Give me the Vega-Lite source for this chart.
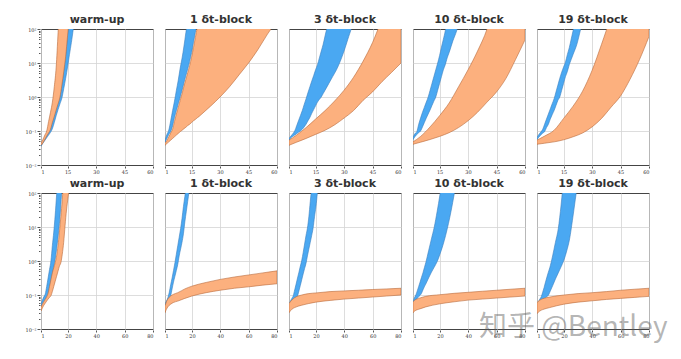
{
"$schema":"https://vega.github.io/schema/vega-lite/v6.json",
"background":"white",
"padding":{"left":24,"top":14,"right":5,"bottom":5},
"config":{"view":{"stroke":"#444","strokeWidth":1},"font":"DejaVu Sans",
"axis":{"labelFont":"DejaVu Serif","labelFontSize":5,"labelColor":"#333","tickColor":"#555","domain":false,"gridColor":"#d4d4d4","gridWidth":0.8,"title":null,"labelPadding":1,"zindex":1}},
"title":{"text":"知乎 @Bentley","orient":"bottom","anchor":"end","fontSize":28,"font":"Noto Sans CJK SC","fontWeight":"normal","color":"rgba(90,90,90,0.45)","offset":-24,"dx":18},
"datasets":{
"top":[
{"p":"warm-up","s":"A","x":1,"lo":0.0355,"hi":0.0447},{"p":"warm-up","s":"A","x":2,"lo":0.0437,"hi":0.0501},{"p":"warm-up","s":"A","x":3,"lo":0.0525,"hi":0.0631},{"p":"warm-up","s":"A","x":4,"lo":0.0631,"hi":0.0794},{"p":"warm-up","s":"A","x":5,"lo":0.0759,"hi":0.0977},{"p":"warm-up","s":"A","x":6,"lo":0.0912,"hi":0.126},{"p":"warm-up","s":"A","x":7,"lo":0.117,"hi":0.2},{"p":"warm-up","s":"A","x":8,"lo":0.178,"hi":0.302},{"p":"warm-up","s":"A","x":9,"lo":0.282,"hi":0.468},{"p":"warm-up","s":"A","x":10,"lo":0.427,"hi":0.708},{"p":"warm-up","s":"A","x":11,"lo":0.631,"hi":1.12},{"p":"warm-up","s":"A","x":12,"lo":0.933,"hi":2.51},{"p":"warm-up","s":"A","x":13,"lo":1.78,"hi":6.31},{"p":"warm-up","s":"A","x":14,"lo":3.55,"hi":17.8},{"p":"warm-up","s":"A","x":15,"lo":7.59,"hi":70.8},{"p":"warm-up","s":"A","x":16,"lo":17.8,"hi":282},{"p":"warm-up","s":"A","x":17,"lo":39.8,"hi":1000},{"p":"warm-up","s":"A","x":18,"lo":100,"hi":1000},{"p":"warm-up","s":"A","x":19,"lo":316,"hi":1000},{"p":"warm-up","s":"A","x":20,"lo":1000,"hi":1000},
{"p":"warm-up","s":"B","x":1,"lo":0.038,"hi":0.0447},{"p":"warm-up","s":"B","x":2,"lo":0.0447,"hi":0.0562},{"p":"warm-up","s":"B","x":3,"lo":0.0562,"hi":0.0759},{"p":"warm-up","s":"B","x":4,"lo":0.0708,"hi":0.1},{"p":"warm-up","s":"B","x":5,"lo":0.0871,"hi":0.191},{"p":"warm-up","s":"B","x":6,"lo":0.112,"hi":0.355},{"p":"warm-up","s":"B","x":7,"lo":0.178,"hi":0.708},{"p":"warm-up","s":"B","x":8,"lo":0.269,"hi":2.0},{"p":"warm-up","s":"B","x":9,"lo":0.417,"hi":7.59},{"p":"warm-up","s":"B","x":10,"lo":0.631,"hi":79.4},{"p":"warm-up","s":"B","x":11,"lo":1,"hi":1000},{"p":"warm-up","s":"B","x":12,"lo":2.24,"hi":1000},{"p":"warm-up","s":"B","x":13,"lo":5.62,"hi":1000},{"p":"warm-up","s":"B","x":14,"lo":15.8,"hi":1000},{"p":"warm-up","s":"B","x":15,"lo":63.1,"hi":1000},{"p":"warm-up","s":"B","x":16,"lo":251,"hi":1000},{"p":"warm-up","s":"B","x":17,"lo":1000,"hi":1000},
{"p":"1 δt-block","s":"A","x":1,"lo":0.0468,"hi":0.0537},{"p":"1 δt-block","s":"A","x":2,"lo":0.0603,"hi":0.0794},{"p":"1 δt-block","s":"A","x":3,"lo":0.0794,"hi":0.107},{"p":"1 δt-block","s":"A","x":4,"lo":0.0955,"hi":0.2},{"p":"1 δt-block","s":"A","x":5,"lo":0.141,"hi":0.398},{"p":"1 δt-block","s":"A","x":6,"lo":0.251,"hi":0.759},{"p":"1 δt-block","s":"A","x":7,"lo":0.398,"hi":1.58},{"p":"1 δt-block","s":"A","x":8,"lo":0.631,"hi":3.16},{"p":"1 δt-block","s":"A","x":9,"lo":1,"hi":7.08},{"p":"1 δt-block","s":"A","x":10,"lo":1.58,"hi":14.1},{"p":"1 δt-block","s":"A","x":11,"lo":2.63,"hi":31.6},{"p":"1 δt-block","s":"A","x":12,"lo":4.27,"hi":79.4},{"p":"1 δt-block","s":"A","x":13,"lo":6.76,"hi":200},{"p":"1 δt-block","s":"A","x":14,"lo":11.2,"hi":1000},{"p":"1 δt-block","s":"A","x":15,"lo":20.0,"hi":1000},{"p":"1 δt-block","s":"A","x":16,"lo":39.8,"hi":1000},{"p":"1 δt-block","s":"A","x":17,"lo":79.4,"hi":1000},{"p":"1 δt-block","s":"A","x":18,"lo":158,"hi":1000},{"p":"1 δt-block","s":"A","x":19,"lo":355,"hi":1000},{"p":"1 δt-block","s":"A","x":20,"lo":1000,"hi":1000},
{"p":"1 δt-block","s":"B","x":1,"lo":0.038,"hi":0.0427},{"p":"1 δt-block","s":"B","x":2,"lo":0.0427,"hi":0.0525},{"p":"1 δt-block","s":"B","x":3,"lo":0.0479,"hi":0.0676},{"p":"1 δt-block","s":"B","x":4,"lo":0.0537,"hi":0.0871},{"p":"1 δt-block","s":"B","x":5,"lo":0.0603,"hi":0.112},{"p":"1 δt-block","s":"B","x":6,"lo":0.0676,"hi":0.191},{"p":"1 δt-block","s":"B","x":7,"lo":0.0759,"hi":0.316},{"p":"1 δt-block","s":"B","x":8,"lo":0.0851,"hi":0.501},{"p":"1 δt-block","s":"B","x":9,"lo":0.0955,"hi":0.794},{"p":"1 δt-block","s":"B","x":10,"lo":0.105,"hi":1.26},{"p":"1 δt-block","s":"B","x":11,"lo":0.117,"hi":2.09},{"p":"1 δt-block","s":"B","x":12,"lo":0.129,"hi":3.31},{"p":"1 δt-block","s":"B","x":13,"lo":0.145,"hi":5.25},{"p":"1 δt-block","s":"B","x":14,"lo":0.158,"hi":8.51},{"p":"1 δt-block","s":"B","x":15,"lo":0.178,"hi":14.8},{"p":"1 δt-block","s":"B","x":16,"lo":0.2,"hi":28.2},{"p":"1 δt-block","s":"B","x":17,"lo":0.219,"hi":56.2},{"p":"1 δt-block","s":"B","x":18,"lo":0.245,"hi":112},{"p":"1 δt-block","s":"B","x":19,"lo":0.269,"hi":251},{"p":"1 δt-block","s":"B","x":20,"lo":0.302,"hi":1000},{"p":"1 δt-block","s":"B","x":25,"lo":0.537,"hi":1000},{"p":"1 δt-block","s":"B","x":30,"lo":1,"hi":1000},{"p":"1 δt-block","s":"B","x":35,"lo":2.0,"hi":1000},{"p":"1 δt-block","s":"B","x":40,"lo":4.47,"hi":1000},{"p":"1 δt-block","s":"B","x":45,"lo":10,"hi":1000},{"p":"1 δt-block","s":"B","x":50,"lo":25.1,"hi":1000},{"p":"1 δt-block","s":"B","x":55,"lo":70.8,"hi":1000},{"p":"1 δt-block","s":"B","x":60,"lo":178,"hi":1000},
{"p":"3 δt-block","s":"A","x":1,"lo":0.0525,"hi":0.0603},{"p":"3 δt-block","s":"A","x":2,"lo":0.0631,"hi":0.0708},{"p":"3 δt-block","s":"A","x":3,"lo":0.0692,"hi":0.0832},{"p":"3 δt-block","s":"A","x":4,"lo":0.0759,"hi":0.1},{"p":"3 δt-block","s":"A","x":5,"lo":0.0832,"hi":0.141},{"p":"3 δt-block","s":"A","x":6,"lo":0.0912,"hi":0.2},{"p":"3 δt-block","s":"A","x":7,"lo":0.1,"hi":0.282},{"p":"3 δt-block","s":"A","x":8,"lo":0.112,"hi":0.398},{"p":"3 δt-block","s":"A","x":9,"lo":0.132,"hi":0.603},{"p":"3 δt-block","s":"A","x":10,"lo":0.158,"hi":0.891},{"p":"3 δt-block","s":"A","x":11,"lo":0.2,"hi":1.35},{"p":"3 δt-block","s":"A","x":12,"lo":0.251,"hi":2.0},{"p":"3 δt-block","s":"A","x":13,"lo":0.331,"hi":2.95},{"p":"3 δt-block","s":"A","x":14,"lo":0.427,"hi":4.27},{"p":"3 δt-block","s":"A","x":15,"lo":0.55,"hi":6.31},{"p":"3 δt-block","s":"A","x":16,"lo":0.708,"hi":8.91},{"p":"3 δt-block","s":"A","x":17,"lo":0.851,"hi":14.1},{"p":"3 δt-block","s":"A","x":18,"lo":1,"hi":22.4},{"p":"3 δt-block","s":"A","x":19,"lo":1.26,"hi":35.5},{"p":"3 δt-block","s":"A","x":20,"lo":1.58,"hi":63.1},{"p":"3 δt-block","s":"A","x":22,"lo":2.51,"hi":200},{"p":"3 δt-block","s":"A","x":24,"lo":3.98,"hi":1000},{"p":"3 δt-block","s":"A","x":26,"lo":6.31,"hi":1000},{"p":"3 δt-block","s":"A","x":28,"lo":11.2,"hi":1000},{"p":"3 δt-block","s":"A","x":30,"lo":22.4,"hi":1000},{"p":"3 δt-block","s":"A","x":32,"lo":50.1,"hi":1000},{"p":"3 δt-block","s":"A","x":34,"lo":112,"hi":1000},{"p":"3 δt-block","s":"A","x":36,"lo":316,"hi":1000},{"p":"3 δt-block","s":"A","x":38,"lo":1000,"hi":1000},
{"p":"3 δt-block","s":"B","x":1,"lo":0.038,"hi":0.0537},{"p":"3 δt-block","s":"B","x":5,"lo":0.0468,"hi":0.0759},{"p":"3 δt-block","s":"B","x":10,"lo":0.0603,"hi":0.126},{"p":"3 δt-block","s":"B","x":15,"lo":0.0794,"hi":0.224},{"p":"3 δt-block","s":"B","x":20,"lo":0.105,"hi":0.398},{"p":"3 δt-block","s":"B","x":25,"lo":0.151,"hi":0.759},{"p":"3 δt-block","s":"B","x":30,"lo":0.24,"hi":1.58},{"p":"3 δt-block","s":"B","x":35,"lo":0.398,"hi":3.8},{"p":"3 δt-block","s":"B","x":40,"lo":0.794,"hi":11.2},{"p":"3 δt-block","s":"B","x":45,"lo":1.41,"hi":39.8},{"p":"3 δt-block","s":"B","x":50,"lo":2.82,"hi":200},{"p":"3 δt-block","s":"B","x":55,"lo":5.25,"hi":1000},{"p":"3 δt-block","s":"B","x":60,"lo":10,"hi":1000},
{"p":"10 δt-block","s":"A","x":1,"lo":0.0562,"hi":0.0646},{"p":"10 δt-block","s":"A","x":2,"lo":0.0676,"hi":0.0832},{"p":"10 δt-block","s":"A","x":3,"lo":0.0794,"hi":0.0955},{"p":"10 δt-block","s":"A","x":4,"lo":0.0891,"hi":0.158},{"p":"10 δt-block","s":"A","x":5,"lo":0.1,"hi":0.24},{"p":"10 δt-block","s":"A","x":6,"lo":0.132,"hi":0.355},{"p":"10 δt-block","s":"A","x":7,"lo":0.178,"hi":0.501},{"p":"10 δt-block","s":"A","x":8,"lo":0.24,"hi":0.708},{"p":"10 δt-block","s":"A","x":9,"lo":0.316,"hi":1},{"p":"10 δt-block","s":"A","x":10,"lo":0.417,"hi":1.58},{"p":"10 δt-block","s":"A","x":11,"lo":0.562,"hi":2.51},{"p":"10 δt-block","s":"A","x":12,"lo":0.759,"hi":3.98},{"p":"10 δt-block","s":"A","x":13,"lo":1,"hi":6.31},{"p":"10 δt-block","s":"A","x":14,"lo":1.58,"hi":10},{"p":"10 δt-block","s":"A","x":15,"lo":2.51,"hi":16.6},{"p":"10 δt-block","s":"A","x":16,"lo":3.98,"hi":29.5},{"p":"10 δt-block","s":"A","x":17,"lo":6.31,"hi":50.1},{"p":"10 δt-block","s":"A","x":18,"lo":8.91,"hi":89.1},{"p":"10 δt-block","s":"A","x":19,"lo":14.1,"hi":200},{"p":"10 δt-block","s":"A","x":20,"lo":20.0,"hi":1000},{"p":"10 δt-block","s":"A","x":22,"lo":44.7,"hi":1000},{"p":"10 δt-block","s":"A","x":24,"lo":89.1,"hi":1000},{"p":"10 δt-block","s":"A","x":26,"lo":251,"hi":1000},{"p":"10 δt-block","s":"A","x":28,"lo":1000,"hi":1000},
{"p":"10 δt-block","s":"B","x":1,"lo":0.0407,"hi":0.0479},{"p":"10 δt-block","s":"B","x":5,"lo":0.0468,"hi":0.0692},{"p":"10 δt-block","s":"B","x":10,"lo":0.0562,"hi":0.132},{"p":"10 δt-block","s":"B","x":15,"lo":0.0692,"hi":0.282},{"p":"10 δt-block","s":"B","x":20,"lo":0.0891,"hi":0.661},{"p":"10 δt-block","s":"B","x":25,"lo":0.126,"hi":2.0},{"p":"10 δt-block","s":"B","x":30,"lo":0.2,"hi":6.31},{"p":"10 δt-block","s":"B","x":35,"lo":0.355,"hi":22.4},{"p":"10 δt-block","s":"B","x":40,"lo":0.708,"hi":100},{"p":"10 δt-block","s":"B","x":45,"lo":1.41,"hi":1000},{"p":"10 δt-block","s":"B","x":50,"lo":3.55,"hi":1000},{"p":"10 δt-block","s":"B","x":55,"lo":12.6,"hi":1000},{"p":"10 δt-block","s":"B","x":60,"lo":47.9,"hi":1000},
{"p":"19 δt-block","s":"A","x":1,"lo":0.0562,"hi":0.0646},{"p":"19 δt-block","s":"A","x":2,"lo":0.0661,"hi":0.0794},{"p":"19 δt-block","s":"A","x":3,"lo":0.0759,"hi":0.0933},{"p":"19 δt-block","s":"A","x":4,"lo":0.0871,"hi":0.112},{"p":"19 δt-block","s":"A","x":5,"lo":0.0955,"hi":0.158},{"p":"19 δt-block","s":"A","x":6,"lo":0.126,"hi":0.224},{"p":"19 δt-block","s":"A","x":7,"lo":0.158,"hi":0.316},{"p":"19 δt-block","s":"A","x":8,"lo":0.224,"hi":0.447},{"p":"19 δt-block","s":"A","x":9,"lo":0.302,"hi":0.631},{"p":"19 δt-block","s":"A","x":10,"lo":0.398,"hi":0.891},{"p":"19 δt-block","s":"A","x":11,"lo":0.562,"hi":1.41},{"p":"19 δt-block","s":"A","x":12,"lo":0.794,"hi":2.24},{"p":"19 δt-block","s":"A","x":13,"lo":1,"hi":3.55},{"p":"19 δt-block","s":"A","x":14,"lo":1.58,"hi":5.37},{"p":"19 δt-block","s":"A","x":15,"lo":2.51,"hi":7.59},{"p":"19 δt-block","s":"A","x":16,"lo":3.98,"hi":10.7},{"p":"19 δt-block","s":"A","x":17,"lo":5.62,"hi":17.8},{"p":"19 δt-block","s":"A","x":18,"lo":8.91,"hi":28.2},{"p":"19 δt-block","s":"A","x":19,"lo":12.6,"hi":50.1},{"p":"19 δt-block","s":"A","x":20,"lo":17.8,"hi":89.1},{"p":"19 δt-block","s":"A","x":22,"lo":35.5,"hi":316},{"p":"19 δt-block","s":"A","x":24,"lo":100,"hi":1000},{"p":"19 δt-block","s":"A","x":26,"lo":316,"hi":1000},{"p":"19 δt-block","s":"A","x":28,"lo":1000,"hi":1000},
{"p":"19 δt-block","s":"B","x":1,"lo":0.0407,"hi":0.0537},{"p":"19 δt-block","s":"B","x":5,"lo":0.0437,"hi":0.0708},{"p":"19 δt-block","s":"B","x":10,"lo":0.0479,"hi":0.105},{"p":"19 δt-block","s":"B","x":15,"lo":0.055,"hi":0.234},{"p":"19 δt-block","s":"B","x":20,"lo":0.0676,"hi":0.537},{"p":"19 δt-block","s":"B","x":25,"lo":0.0871,"hi":1.48},{"p":"19 δt-block","s":"B","x":30,"lo":0.132,"hi":6.03},{"p":"19 δt-block","s":"B","x":35,"lo":0.234,"hi":35.5},{"p":"19 δt-block","s":"B","x":40,"lo":0.501,"hi":224},{"p":"19 δt-block","s":"B","x":45,"lo":1.07,"hi":1000},{"p":"19 δt-block","s":"B","x":50,"lo":3.31,"hi":1000},{"p":"19 δt-block","s":"B","x":55,"lo":12.6,"hi":1000},{"p":"19 δt-block","s":"B","x":60,"lo":60.3,"hi":1000}
],
"bot":[
{"p":"warm-up","s":"A","x":1,"lo":0.0468,"hi":0.0537},{"p":"warm-up","s":"A","x":2,"lo":0.0562,"hi":0.0708},{"p":"warm-up","s":"A","x":3,"lo":0.0661,"hi":0.0891},{"p":"warm-up","s":"A","x":4,"lo":0.0759,"hi":0.107},{"p":"warm-up","s":"A","x":5,"lo":0.0871,"hi":0.178},{"p":"warm-up","s":"A","x":6,"lo":0.0977,"hi":0.316},{"p":"warm-up","s":"A","x":7,"lo":0.158,"hi":0.562},{"p":"warm-up","s":"A","x":8,"lo":0.251,"hi":1},{"p":"warm-up","s":"A","x":9,"lo":0.398,"hi":2.82},{"p":"warm-up","s":"A","x":10,"lo":0.661,"hi":7.08},{"p":"warm-up","s":"A","x":11,"lo":1.12,"hi":22.4},{"p":"warm-up","s":"A","x":12,"lo":2.24,"hi":89.1},{"p":"warm-up","s":"A","x":13,"lo":5.01,"hi":398},{"p":"warm-up","s":"A","x":14,"lo":12.6,"hi":1000},{"p":"warm-up","s":"A","x":15,"lo":44.7,"hi":1000},{"p":"warm-up","s":"A","x":16,"lo":200,"hi":1000},{"p":"warm-up","s":"A","x":17,"lo":1000,"hi":1000},
{"p":"warm-up","s":"B","x":1,"lo":0.0339,"hi":0.0427},{"p":"warm-up","s":"B","x":2,"lo":0.0417,"hi":0.0537},{"p":"warm-up","s":"B","x":3,"lo":0.0501,"hi":0.0631},{"p":"warm-up","s":"B","x":4,"lo":0.0575,"hi":0.0741},{"p":"warm-up","s":"B","x":5,"lo":0.0661,"hi":0.0891},{"p":"warm-up","s":"B","x":6,"lo":0.0759,"hi":0.112},{"p":"warm-up","s":"B","x":7,"lo":0.0851,"hi":0.178},{"p":"warm-up","s":"B","x":8,"lo":0.0955,"hi":0.282},{"p":"warm-up","s":"B","x":9,"lo":0.126,"hi":0.447},{"p":"warm-up","s":"B","x":10,"lo":0.178,"hi":0.631},{"p":"warm-up","s":"B","x":11,"lo":0.251,"hi":0.891},{"p":"warm-up","s":"B","x":12,"lo":0.355,"hi":1.41},{"p":"warm-up","s":"B","x":13,"lo":0.501,"hi":2.82},{"p":"warm-up","s":"B","x":14,"lo":0.708,"hi":7.08},{"p":"warm-up","s":"B","x":15,"lo":0.891,"hi":20.0},{"p":"warm-up","s":"B","x":16,"lo":1.58,"hi":63.1},{"p":"warm-up","s":"B","x":17,"lo":3.55,"hi":251},{"p":"warm-up","s":"B","x":18,"lo":11.2,"hi":1000},{"p":"warm-up","s":"B","x":19,"lo":31.6,"hi":1000},{"p":"warm-up","s":"B","x":20,"lo":70.8,"hi":1000},{"p":"warm-up","s":"B","x":21,"lo":158,"hi":1000},{"p":"warm-up","s":"B","x":22,"lo":398,"hi":1000},{"p":"warm-up","s":"B","x":23,"lo":1000,"hi":1000},
{"p":"1 δt-block","s":"A","x":1,"lo":0.0468,"hi":0.0537},{"p":"1 δt-block","s":"A","x":2,"lo":0.0562,"hi":0.0661},{"p":"1 δt-block","s":"A","x":3,"lo":0.0661,"hi":0.0832},{"p":"1 δt-block","s":"A","x":4,"lo":0.0794,"hi":0.12},{"p":"1 δt-block","s":"A","x":5,"lo":0.0955,"hi":0.2},{"p":"1 δt-block","s":"A","x":6,"lo":0.151,"hi":0.316},{"p":"1 δt-block","s":"A","x":7,"lo":0.24,"hi":0.525},{"p":"1 δt-block","s":"A","x":8,"lo":0.355,"hi":0.891},{"p":"1 δt-block","s":"A","x":9,"lo":0.525,"hi":1.58},{"p":"1 δt-block","s":"A","x":10,"lo":0.794,"hi":2.82},{"p":"1 δt-block","s":"A","x":11,"lo":1.41,"hi":5.01},{"p":"1 δt-block","s":"A","x":12,"lo":2.24,"hi":8.91},{"p":"1 δt-block","s":"A","x":13,"lo":3.55,"hi":17.8},{"p":"1 δt-block","s":"A","x":14,"lo":6.31,"hi":39.8},{"p":"1 δt-block","s":"A","x":15,"lo":14.1,"hi":79.4},{"p":"1 δt-block","s":"A","x":16,"lo":28.2,"hi":158},{"p":"1 δt-block","s":"A","x":17,"lo":56.2,"hi":316},{"p":"1 δt-block","s":"A","x":18,"lo":112,"hi":1000},{"p":"1 δt-block","s":"A","x":19,"lo":251,"hi":1000},{"p":"1 δt-block","s":"A","x":20,"lo":1000,"hi":1000},
{"p":"1 δt-block","s":"B","x":1,"lo":0.0302,"hi":0.0479},{"p":"1 δt-block","s":"B","x":2,"lo":0.038,"hi":0.0631},{"p":"1 δt-block","s":"B","x":3,"lo":0.0447,"hi":0.0759},{"p":"1 δt-block","s":"B","x":5,"lo":0.0537,"hi":0.0933},{"p":"1 δt-block","s":"B","x":7,"lo":0.0603,"hi":0.105},{"p":"1 δt-block","s":"B","x":10,"lo":0.0661,"hi":0.117},{"p":"1 δt-block","s":"B","x":15,"lo":0.0794,"hi":0.151},{"p":"1 δt-block","s":"B","x":20,"lo":0.0933,"hi":0.182},{"p":"1 δt-block","s":"B","x":30,"lo":0.117,"hi":0.234},{"p":"1 δt-block","s":"B","x":40,"lo":0.138,"hi":0.288},{"p":"1 δt-block","s":"B","x":50,"lo":0.158,"hi":0.339},{"p":"1 δt-block","s":"B","x":60,"lo":0.174,"hi":0.389},{"p":"1 δt-block","s":"B","x":70,"lo":0.195,"hi":0.447},{"p":"1 δt-block","s":"B","x":80,"lo":0.214,"hi":0.513},
{"p":"3 δt-block","s":"A","x":1,"lo":0.0468,"hi":0.0537},{"p":"3 δt-block","s":"A","x":2,"lo":0.0525,"hi":0.0661},{"p":"3 δt-block","s":"A","x":3,"lo":0.0603,"hi":0.0794},{"p":"3 δt-block","s":"A","x":4,"lo":0.0676,"hi":0.0955},{"p":"3 δt-block","s":"A","x":5,"lo":0.0759,"hi":0.141},{"p":"3 δt-block","s":"A","x":6,"lo":0.0832,"hi":0.209},{"p":"3 δt-block","s":"A","x":7,"lo":0.0933,"hi":0.316},{"p":"3 δt-block","s":"A","x":8,"lo":0.132,"hi":0.468},{"p":"3 δt-block","s":"A","x":9,"lo":0.191,"hi":0.708},{"p":"3 δt-block","s":"A","x":10,"lo":0.282,"hi":1.05},{"p":"3 δt-block","s":"A","x":11,"lo":0.417,"hi":1.78},{"p":"3 δt-block","s":"A","x":12,"lo":0.603,"hi":3.16},{"p":"3 δt-block","s":"A","x":13,"lo":0.851,"hi":5.62},{"p":"3 δt-block","s":"A","x":14,"lo":1.41,"hi":9.33},{"p":"3 δt-block","s":"A","x":15,"lo":2.24,"hi":20.0},{"p":"3 δt-block","s":"A","x":16,"lo":3.55,"hi":56.2},{"p":"3 δt-block","s":"A","x":17,"lo":5.62,"hi":158},{"p":"3 δt-block","s":"A","x":18,"lo":9.33,"hi":1000},{"p":"3 δt-block","s":"A","x":19,"lo":20.0,"hi":1000},{"p":"3 δt-block","s":"A","x":20,"lo":39.8,"hi":1000},{"p":"3 δt-block","s":"A","x":21,"lo":100,"hi":1000},{"p":"3 δt-block","s":"A","x":22,"lo":316,"hi":1000},{"p":"3 δt-block","s":"A","x":23,"lo":1000,"hi":1000},
{"p":"3 δt-block","s":"B","x":1,"lo":0.0302,"hi":0.0562},{"p":"3 δt-block","s":"B","x":3,"lo":0.038,"hi":0.0708},{"p":"3 δt-block","s":"B","x":5,"lo":0.0427,"hi":0.0832},{"p":"3 δt-block","s":"B","x":10,"lo":0.0501,"hi":0.1},{"p":"3 δt-block","s":"B","x":15,"lo":0.0562,"hi":0.11},{"p":"3 δt-block","s":"B","x":20,"lo":0.0617,"hi":0.115},{"p":"3 δt-block","s":"B","x":30,"lo":0.0692,"hi":0.126},{"p":"3 δt-block","s":"B","x":40,"lo":0.0759,"hi":0.132},{"p":"3 δt-block","s":"B","x":50,"lo":0.0813,"hi":0.138},{"p":"3 δt-block","s":"B","x":60,"lo":0.0871,"hi":0.145},{"p":"3 δt-block","s":"B","x":70,"lo":0.0933,"hi":0.151},{"p":"3 δt-block","s":"B","x":80,"lo":0.1,"hi":0.158},
{"p":"10 δt-block","s":"A","x":1,"lo":0.0501,"hi":0.0631},{"p":"10 δt-block","s":"A","x":2,"lo":0.0603,"hi":0.0832},{"p":"10 δt-block","s":"A","x":3,"lo":0.0708,"hi":0.1},{"p":"10 δt-block","s":"A","x":4,"lo":0.0794,"hi":0.132},{"p":"10 δt-block","s":"A","x":5,"lo":0.0891,"hi":0.178},{"p":"10 δt-block","s":"A","x":6,"lo":0.0977,"hi":0.24},{"p":"10 δt-block","s":"A","x":7,"lo":0.112,"hi":0.331},{"p":"10 δt-block","s":"A","x":8,"lo":0.141,"hi":0.447},{"p":"10 δt-block","s":"A","x":9,"lo":0.174,"hi":0.631},{"p":"10 δt-block","s":"A","x":10,"lo":0.209,"hi":0.891},{"p":"10 δt-block","s":"A","x":12,"lo":0.316,"hi":2.0},{"p":"10 δt-block","s":"A","x":14,"lo":0.468,"hi":4.47},{"p":"10 δt-block","s":"A","x":16,"lo":0.661,"hi":10},{"p":"10 δt-block","s":"A","x":18,"lo":0.955,"hi":28.2},{"p":"10 δt-block","s":"A","x":20,"lo":1.58,"hi":89.1},{"p":"10 δt-block","s":"A","x":22,"lo":2.82,"hi":316},{"p":"10 δt-block","s":"A","x":24,"lo":5.62,"hi":1000},{"p":"10 δt-block","s":"A","x":26,"lo":12.6,"hi":1000},{"p":"10 δt-block","s":"A","x":28,"lo":31.6,"hi":1000},{"p":"10 δt-block","s":"A","x":30,"lo":89.1,"hi":1000},{"p":"10 δt-block","s":"A","x":32,"lo":251,"hi":1000},{"p":"10 δt-block","s":"A","x":34,"lo":1000,"hi":1000},
{"p":"10 δt-block","s":"B","x":1,"lo":0.0302,"hi":0.0631},{"p":"10 δt-block","s":"B","x":2,"lo":0.0331,"hi":0.0692},{"p":"10 δt-block","s":"B","x":3,"lo":0.0355,"hi":0.0741},{"p":"10 δt-block","s":"B","x":5,"lo":0.038,"hi":0.0794},{"p":"10 δt-block","s":"B","x":10,"lo":0.0447,"hi":0.0912},{"p":"10 δt-block","s":"B","x":20,"lo":0.055,"hi":0.102},{"p":"10 δt-block","s":"B","x":30,"lo":0.0631,"hi":0.112},{"p":"10 δt-block","s":"B","x":40,"lo":0.0708,"hi":0.12},{"p":"10 δt-block","s":"B","x":50,"lo":0.0759,"hi":0.129},{"p":"10 δt-block","s":"B","x":60,"lo":0.0813,"hi":0.138},{"p":"10 δt-block","s":"B","x":70,"lo":0.0871,"hi":0.148},{"p":"10 δt-block","s":"B","x":80,"lo":0.0933,"hi":0.158},
{"p":"19 δt-block","s":"A","x":1,"lo":0.0447,"hi":0.0537},{"p":"19 δt-block","s":"A","x":2,"lo":0.0501,"hi":0.0631},{"p":"19 δt-block","s":"A","x":3,"lo":0.0562,"hi":0.0759},{"p":"19 δt-block","s":"A","x":4,"lo":0.0631,"hi":0.0891},{"p":"19 δt-block","s":"A","x":5,"lo":0.0692,"hi":0.12},{"p":"19 δt-block","s":"A","x":6,"lo":0.0759,"hi":0.166},{"p":"19 δt-block","s":"A","x":7,"lo":0.0832,"hi":0.24},{"p":"19 δt-block","s":"A","x":8,"lo":0.0891,"hi":0.339},{"p":"19 δt-block","s":"A","x":9,"lo":0.0977,"hi":0.468},{"p":"19 δt-block","s":"A","x":10,"lo":0.12,"hi":0.631},{"p":"19 δt-block","s":"A","x":12,"lo":0.186,"hi":1.41},{"p":"19 δt-block","s":"A","x":14,"lo":0.295,"hi":3.55},{"p":"19 δt-block","s":"A","x":16,"lo":0.447,"hi":8.91},{"p":"19 δt-block","s":"A","x":18,"lo":0.676,"hi":44.7},{"p":"19 δt-block","s":"A","x":20,"lo":1.07,"hi":316},{"p":"19 δt-block","s":"A","x":22,"lo":2.0,"hi":1000},{"p":"19 δt-block","s":"A","x":24,"lo":4.47,"hi":1000},{"p":"19 δt-block","s":"A","x":26,"lo":15.8,"hi":1000},{"p":"19 δt-block","s":"A","x":28,"lo":63.1,"hi":1000},{"p":"19 δt-block","s":"A","x":30,"lo":251,"hi":1000},{"p":"19 δt-block","s":"A","x":32,"lo":1000,"hi":1000},
{"p":"19 δt-block","s":"B","x":1,"lo":0.0282,"hi":0.0589},{"p":"19 δt-block","s":"B","x":2,"lo":0.0316,"hi":0.0661},{"p":"19 δt-block","s":"B","x":3,"lo":0.0339,"hi":0.0708},{"p":"19 δt-block","s":"B","x":5,"lo":0.0372,"hi":0.0776},{"p":"19 δt-block","s":"B","x":10,"lo":0.0427,"hi":0.0871},{"p":"19 δt-block","s":"B","x":20,"lo":0.0537,"hi":0.1},{"p":"19 δt-block","s":"B","x":30,"lo":0.0617,"hi":0.11},{"p":"19 δt-block","s":"B","x":40,"lo":0.0676,"hi":0.117},{"p":"19 δt-block","s":"B","x":50,"lo":0.0741,"hi":0.126},{"p":"19 δt-block","s":"B","x":60,"lo":0.0794,"hi":0.138},{"p":"19 δt-block","s":"B","x":70,"lo":0.0851,"hi":0.148},{"p":"19 δt-block","s":"B","x":80,"lo":0.0912,"hi":0.158}
]},
"spacing":4,
"vconcat":[
{"data":{"name":"top"},
"facet":{"column":{"field":"p","type":"nominal","sort":["warm-up","1 δt-block","3 δt-block","10 δt-block","19 δt-block"],"title":null,"header":{"labelFontSize":11,"labelFontWeight":"bold","labelColor":"#333","labelPadding":3,"labelFont":"DejaVu Sans"}}},
"spacing":10,
"spec":{"width":112,"height":136,
"mark":{"type":"area","clip":true,"strokeWidth":0.6,"interpolate":"monotone"},
"encoding":{
"x":{"field":"x","type":"quantitative","scale":{"domain":[1,60],"nice":false,"zero":false},"axis":{"values":[1,15,30,45,60],"tickSize":2,"grid":true}},
"y":{"field":"lo","type":"quantitative","stack":null,"scale":{"type":"log","domain":[0.01,100],"nice":false},"axis":{"values":[0.01,0.02,0.03,0.04,0.05,0.06,0.07,0.08,0.09,0.1,0.2,0.3,0.4,0.5,0.6,0.7,0.8,0.9,1,2,3,4,5,6,7,8,9,10,20,30,40,50,60,70,80,90,100],"labelExpr":"datum.value==100?'10²':datum.value==10?'10¹':datum.value==1?'10⁰':datum.value==0.1?'10⁻¹':datum.value==0.01?'10⁻²':''","tickSize":{"condition":{"test":"datum.value==0.01||datum.value==0.1||datum.value==1||datum.value==10||datum.value==100","value":3},"value":1.5},"gridOpacity":{"condition":{"test":"datum.value==0.1||datum.value==1||datum.value==10","value":1},"value":0}}},
"y2":{"field":"hi"},
"fill":{"field":"s","type":"nominal","scale":{"domain":["A","B"],"range":["#4aa8f2","#fcb07e"]},"legend":null},
"stroke":{"field":"s","type":"nominal","scale":{"domain":["A","B"],"range":["#3a7fc0","#b8693a"]},"legend":null}
}}},
{"data":{"name":"bot"},
"facet":{"column":{"field":"p","type":"nominal","sort":["warm-up","1 δt-block","3 δt-block","10 δt-block","19 δt-block"],"title":null,"header":{"labelFontSize":11,"labelFontWeight":"bold","labelColor":"#333","labelPadding":3,"labelFont":"DejaVu Sans"}}},
"spacing":10,
"spec":{"width":112,"height":136,
"mark":{"type":"area","clip":true,"strokeWidth":0.6,"interpolate":"monotone"},
"encoding":{
"x":{"field":"x","type":"quantitative","scale":{"domain":[1,80],"nice":false,"zero":false},"axis":{"values":[1,20,40,60,80],"tickSize":2,"grid":true}},
"y":{"field":"lo","type":"quantitative","stack":null,"scale":{"type":"log","domain":[0.01,100],"nice":false},"axis":{"values":[0.01,0.02,0.03,0.04,0.05,0.06,0.07,0.08,0.09,0.1,0.2,0.3,0.4,0.5,0.6,0.7,0.8,0.9,1,2,3,4,5,6,7,8,9,10,20,30,40,50,60,70,80,90,100],"labelExpr":"datum.value==100?'10²':datum.value==10?'10¹':datum.value==1?'10⁰':datum.value==0.1?'10⁻¹':datum.value==0.01?'10⁻²':''","tickSize":{"condition":{"test":"datum.value==0.01||datum.value==0.1||datum.value==1||datum.value==10||datum.value==100","value":3},"value":1.5},"gridOpacity":{"condition":{"test":"datum.value==0.1||datum.value==1||datum.value==10","value":1},"value":0}}},
"y2":{"field":"hi"},
"fill":{"field":"s","type":"nominal","scale":{"domain":["A","B"],"range":["#4aa8f2","#fcb07e"]},"legend":null},
"stroke":{"field":"s","type":"nominal","scale":{"domain":["A","B"],"range":["#3a7fc0","#b8693a"]},"legend":null}
}}}
]
}
